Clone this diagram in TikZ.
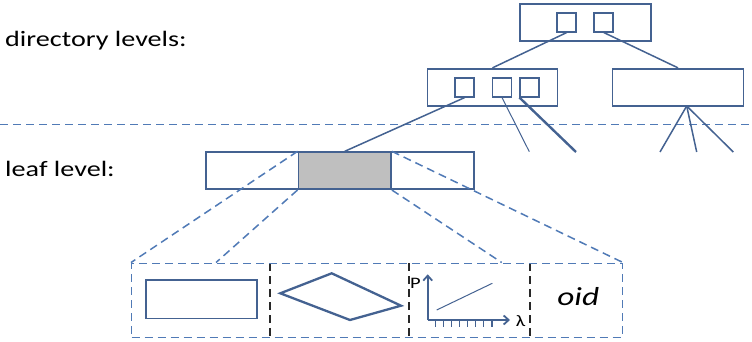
\documentclass[tikz,border=0pt]{standalone}
\usepackage{fontspec}
\setmainfont{Carlito}[FakeStretch=1.28]
\usetikzlibrary{arrows.meta,calc}
\definecolor{lineblue}{RGB}{68,98,145}
\definecolor{dashblue}{RGB}{80,122,182}
\definecolor{selgray}{RGB}{191,191,191}
\definecolor{celldark}{RGB}{40,40,40}

\begin{document}
\begin{tikzpicture}[>=Latex, x=1pt, y=-1pt,
  box/.style={draw=lineblue, line width=1.7pt, inner sep=0pt, minimum height=37pt},
  key/.style={draw=lineblue, line width=1.7pt, inner sep=0pt, minimum size=19pt},
  link/.style={lineblue, line width=1.5pt},
  sep/.style={draw=dashblue, line width=1.5pt, dash pattern=on 8pt off 5pt},
  cell/.style={inner sep=0pt, minimum height=74pt},
  axis/.style={lineblue, line width=1.8pt, -{Straight Barb[length=5pt,width=9pt]}},
  label/.style={font=\fontsize{22}{26}\selectfont, inner sep=0pt, anchor=base west}]
  \useasboundingbox (0,0) rectangle (752,342);

  \node[label] (dirlbl) at (5,46.7) {directory levels:};
  \node[label] (leaflbl) at (5,176) {leaf level:};

  % directory
  \node[box, minimum width=131pt] (root) at (585.5,22.5) {};
  \node[key] (rk1) at (566.7,22.2) {};
  \node[key] (rk2) at (603.8,22.2) {};
  \node[box, minimum width=130pt] (dl) at (492.5,87.2) {};
  \node[key] (dlk1) at (464.7,87.2) {};
  \node[key] (dlk2) at (502,87.2) {};
  \node[key] (dlk3) at (529.8,87.2) {};
  \node[box, minimum width=131pt] (dr) at (678,87.2) {};

  \coordinate (sepw) at (0,124.7);
  \coordinate (sepe) at (752,124.7);
  \draw[sep] (sepw) -- (sepe);

  % leaf
  \node[box, minimum width=268.6pt] (leaf) at (340,170.7) {};
  \node[box, fill=selgray, minimum width=92.7pt] (sel) at (344.7,170.7) {};

  \draw[link] (rk1.south) -- (dl.north);
  \draw[link] (rk2.south) -- (dr.north);
  \draw[link] (dlk1.south) -- (sel.north);
  \coordinate (c1) at (529.3,151.7);
  \coordinate (c2) at (576,152);
  \draw[link, line width=1pt] (dlk2.south) -- (c1);
  \draw[link, line width=2.4pt] (dlk3.south west) -- (c2);
  \coordinate (fan) at (686.7,106);
  \foreach \x [count=\i] in {660,696.7,733.3} {
    \coordinate (f\i) at (\x,152);
    \draw[link] (fan) -- (f\i);
  }

  % entry
  \node[cell, minimum width=138.3pt] (ca) at (200.85,300.3) {};
  \node[cell, minimum width=138.7pt] (cb) at (339.35,300.3) {};
  \node[cell, minimum width=121.3pt] (cc) at (469.35,300.3) {};
  \node[cell, minimum width=92.3pt] (cd) at (576.15,300.3) {};
  \foreach \c in {ca,cb,cc}
    \draw[celldark, line width=1.5pt, dash pattern=on 8pt off 5pt] (\c.north east) -- (\c.south east);
  \node[sep, minimum width=490.6pt, minimum height=74pt, inner sep=0pt] (strip) at (377,300.3) {};

  \draw[sep] (sel.north west) -- (strip.north west);
  \draw[sep] (sel.north east) -- (strip.north east);
  \coordinate (s1) at (216,262.5);
  \coordinate (s2) at (501.7,262.5);
  \draw[sep] (sel.south west) -- (s1);
  \draw[sep] (sel.south east) -- (s2);

  \node[draw=lineblue, line width=1.7pt, inner sep=0pt, minimum width=111.3pt, minimum height=38.3pt] (mbr) at (201.4,299.2) {};
  \draw[lineblue, line width=2.3pt] (280.3,293.3) -- (331.7,273.3) -- (401,305.7) -- (350,320) -- cycle;

  \coordinate (org) at (427.7,320);
  \coordinate (ytop) at (427.7,274.3);
  \coordinate (xend) at (510,320);
  \foreach \i in {0,...,7}
    \draw[lineblue, line width=1.3pt] ($(org)+(7.5+8.1*\i,0)$) -- ++(0,7);
  \draw[axis] (org) -- (ytop);
  \draw[axis] (org) -- (xend);
  \coordinate (p1) at (436.7,310);
  \coordinate (p2) at (492.3,283.3);
  \draw[lineblue, line width=1pt] (p1) -- (p2);
  \node[font=\fontsize{16}{18}\selectfont, inner sep=0pt] (plbl) at (415.5,283.5) {P};
  \node[font=\fontsize{16}{18}\selectfont, inner sep=0pt] (lamlbl) at (520.5,321.5) {λ};
  \node[font=\fontsize{26}{30}\selectfont\itshape, inner sep=0pt] (oid) at (578.3,296.7) {oid};
\end{tikzpicture}
\end{document}
